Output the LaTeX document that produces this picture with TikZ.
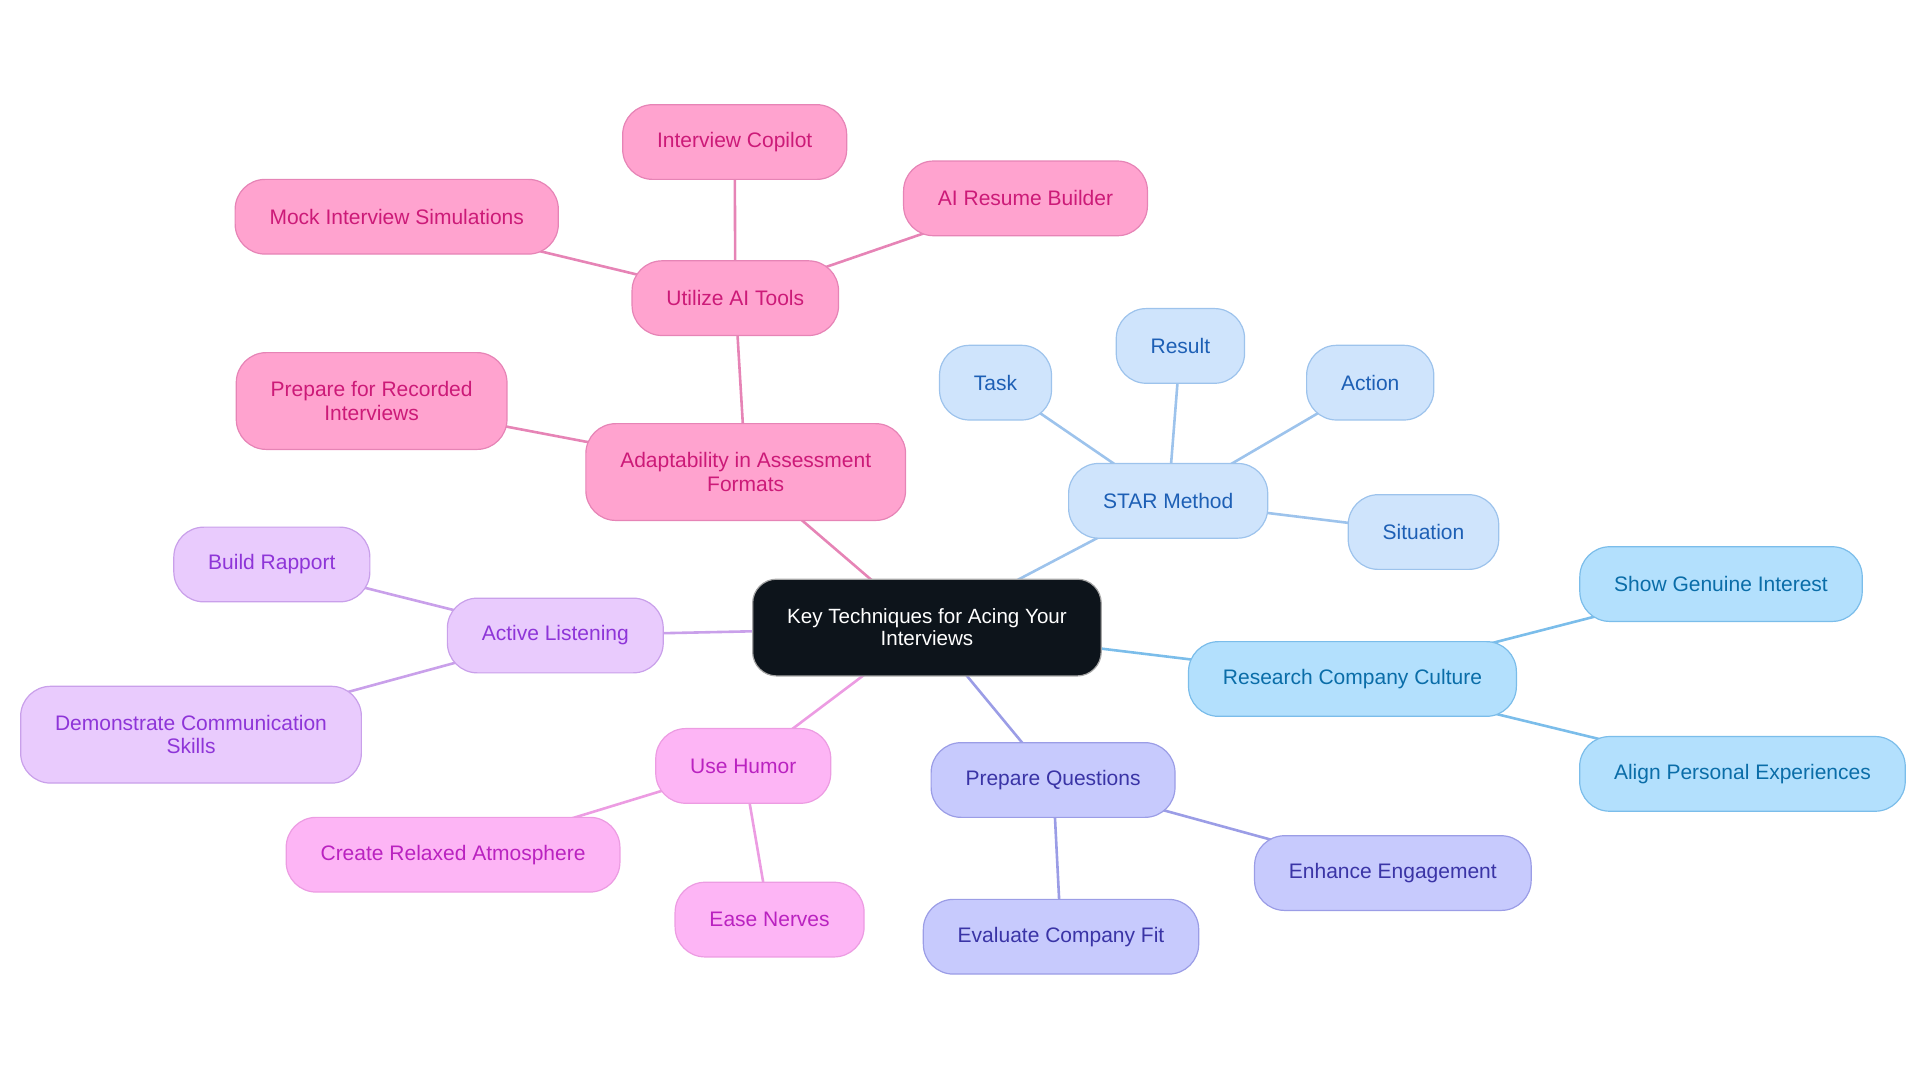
\documentclass[tikz,border=0pt]{standalone}
\usepackage{fontspec}
\usetikzlibrary{backgrounds}
\setmainfont{Liberation Sans}

\definecolor{rootFill}{HTML}{0D141B}
\definecolor{adaptFill}{HTML}{FFA3CF}
\definecolor{adaptLine}{HTML}{E684B6}
\definecolor{adaptText}{HTML}{CC1A78}
\definecolor{starFill}{HTML}{CFE4FC}
\definecolor{starLine}{HTML}{9DC3EC}
\definecolor{starText}{HTML}{1D5FB5}
\definecolor{cultFill}{HTML}{B3E0FD}
\definecolor{cultLine}{HTML}{7BBDEA}
\definecolor{cultText}{HTML}{0A6DA8}
\definecolor{questFill}{HTML}{C7CAFD}
\definecolor{questLine}{HTML}{9B9DE6}
\definecolor{questText}{HTML}{3A34A6}
\definecolor{humorFill}{HTML}{FDB5F5}
\definecolor{humorLine}{HTML}{EC9CE2}
\definecolor{humorText}{HTML}{BA22C0}
\definecolor{listenFill}{HTML}{E9CBFD}
\definecolor{listenLine}{HTML}{C9A0EA}
\definecolor{listenText}{HTML}{8E35D8}

\begin{document}
\begin{tikzpicture}[x=0.6123pt, y=-0.6123pt,
    topic/.style={draw, rounded corners=15pt, line width=0.6pt, inner xsep=17.2pt,
      inner ysep=3pt, minimum height=37.35pt, align=center,
      font=\fontsize{10.5}{11.6}\selectfont},
    tall/.style={minimum height=48.4pt},
    rootnode/.style={topic, rounded corners=12pt, fill=rootFill, draw=gray!70, text=white,
      minimum height=48.4pt, font=\fontsize{10.3}{11}\selectfont},
    adaptnode/.style={topic, fill=adaptFill, draw=adaptLine, text=adaptText},
    starnode/.style={topic, fill=starFill, draw=starLine, text=starText},
    cultnode/.style={topic, fill=cultFill, draw=cultLine, text=cultText},
    questnode/.style={topic, fill=questFill, draw=questLine, text=questText},
    humornode/.style={topic, fill=humorFill, draw=humorLine, text=humorText},
    listennode/.style={topic, fill=listenFill, draw=listenLine, text=listenText},
    link/.style={line width=1.3pt}]
    \useasboundingbox (0,0) rectangle (1568,884.5);

    \node[rootnode] (root) at (757,512.5) {Key Techniques for Acing Your\\Interviews};

    \node[adaptnode, tall] (adapt) at (609,385.5) {Adaptability in Assessment\\Formats};
    \node[adaptnode] (ai) at (600.5,243.5) {Utilize AI Tools};
    \node[adaptnode] (copilot) at (600,116) {Interview Copilot};
    \node[adaptnode] (resume) at (837.5,162) {AI Resume Builder};
    \node[adaptnode] (mock) at (324,177) {Mock Interview Simulations};
    \node[adaptnode, tall] (recorded) at (303.5,327.5) {Prepare for Recorded\\Interviews};

    \node[starnode] (star) at (954,409) {STAR Method};
    \node[starnode] (task) at (813,312.5) {Task};
    \node[starnode] (result) at (964,282.5) {Result};
    \node[starnode] (action) at (1119,312.5) {Action};
    \node[starnode] (situation) at (1162.5,434.5) {Situation};

    \node[cultnode] (culture) at (1104.5,554.5) {Research Company Culture};
    \node[cultnode] (interest) at (1405.5,477) {Show Genuine Interest};
    \node[cultnode] (align) at (1423,632) {Align Personal Experiences};

    \node[questnode] (quest) at (860,637) {Prepare Questions};
    \node[questnode] (engage) at (1137.5,713) {Enhance Engagement};
    \node[questnode] (fit) at (866.5,765) {Evaluate Company Fit};

    \node[humornode] (humor) at (607,625.5) {Use Humor};
    \node[humornode] (relaxed) at (370,698) {Create Relaxed Atmosphere};
    \node[humornode] (nerves) at (628.5,751) {Ease Nerves};

    \node[listennode] (listen) at (453.5,519) {Active Listening};
    \node[listennode] (rapport) at (222,461) {Build Rapport};
    \node[listennode, tall] (comm) at (156,600) {Demonstrate Communication\\Skills};

    \begin{pgfonlayer}{background}
    \draw[link, adaptLine] (root.center) -- (adapt.center);
    \draw[link, adaptLine] (adapt.center) -- (ai.center);
    \draw[link, adaptLine] (ai.center) -- (copilot.center);
    \draw[link, adaptLine] (ai.center) -- (resume.center);
    \draw[link, adaptLine] (ai.center) -- (mock.center);
    \draw[link, adaptLine] (adapt.center) -- (recorded.center);

    \draw[link, starLine] (root.center) -- (star.center);
    \draw[link, starLine] (star.center) -- (task.center);
    \draw[link, starLine] (star.center) -- (result.center);
    \draw[link, starLine] (star.center) -- (action.center);
    \draw[link, starLine] (star.center) -- (situation.center);

    \draw[link, cultLine] (root.center) -- (culture.center);
    \draw[link, cultLine] (culture.center) -- (interest.center);
    \draw[link, cultLine] (culture.center) -- (align.center);

    \draw[link, questLine] (root.center) -- (quest.center);
    \draw[link, questLine] (quest.center) -- (engage.center);
    \draw[link, questLine] (quest.center) -- (fit.center);

    \draw[link, humorLine] (root.center) -- (humor.center);
    \draw[link, humorLine] (humor.center) -- (relaxed.center);
    \draw[link, humorLine] (humor.center) -- (nerves.center);

    \draw[link, listenLine] (root.center) -- (listen.center);
    \draw[link, listenLine] (listen.center) -- (rapport.center);
    \draw[link, listenLine] (listen.center) -- (comm.center);
    \end{pgfonlayer}
\end{tikzpicture}
\end{document}
